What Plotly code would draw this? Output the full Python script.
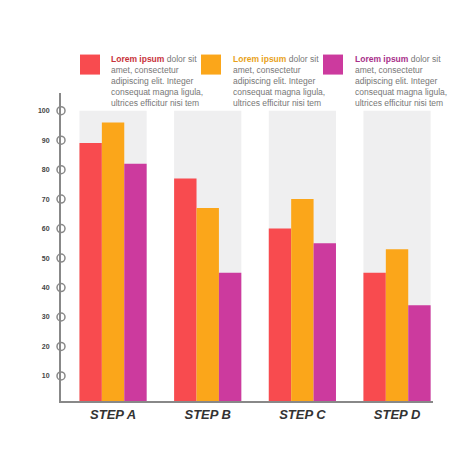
import plotly.graph_objects as go

categories = ["STEP A", "STEP B", "STEP C", "STEP D"]
red_vals = [89, 77, 60, 45]
orange_vals = [96, 67, 70, 53]
magenta_vals = [82, 45, 55, 34]
bg_vals = [100, 100, 100, 100]
tick_vals = [10, 20, 30, 40, 50, 60, 70, 80, 90, 100]
colors = ["#F84B4F", "#FBA61A", "#CC3A9E"]
title_colors = ["#C8323A", "#E8A21A", "#A8308A"]

xpos = list(range(len(categories)))
XR = [-0.55, 3.38]
GW = 0.71
BW = GW / 3

fig = go.Figure()
fig.add_trace(go.Bar(x=xpos, y=bg_vals, width=GW, offset=-GW / 2,
                     marker=dict(color="#EFEFF0", line=dict(width=0)), hoverinfo="skip"))
for k, (vals, c) in enumerate(zip([red_vals, orange_vals, magenta_vals], colors)):
    fig.add_trace(go.Bar(x=xpos, y=vals, width=BW, offset=-GW / 2 + k * BW,
                         marker=dict(color=c, line=dict(width=0))))
fig.add_trace(go.Scatter(x=[XR[0]] * len(tick_vals), y=tick_vals, mode="markers",
                         cliponaxis=False,
                         marker=dict(symbol="circle", size=8, color="white",
                                     line=dict(color="#888888", width=1.5))))

OFF = 7
W, H, L = 372, 307.6, 60
def px(x): return (x - L) / W
def py(y): return (400 - y) / H

shapes = []
annotations = []
for i, (sx, tx) in enumerate([(79, 108), (200, 230), (322, 352)]):
    shapes.append(dict(type="rect", xref="paper", yref="paper", x0=px(sx), x1=px(sx + 20),
                       y0=py(74), y1=py(54), fillcolor=colors[i], line=dict(width=0)))
    annotations.append(dict(xref="paper", yref="paper", x=px(tx), y=py(51), xanchor="left",
                            yanchor="top", align="left", showarrow=False,
                            font=dict(family="Liberation Sans, Arial", size=8.5, color="#777777"),
                            text=f"<b><span style='color:{title_colors[i]}'>Lorem ipsum</span></b> dolor sit<br>amet, consectetur<br>adipiscing elit. Integer<br>consequat magna ligula,<br>ultrices efficitur nisi tem"))

fig.update_layout(
    width=474, height=474, margin=dict(l=60 - OFF, r=42 + OFF, t=92 - OFF, b=74 + OFF),
    paper_bgcolor="white", plot_bgcolor="white", showlegend=False,
    barmode="overlay",
    shapes=shapes, annotations=annotations,
    xaxis=dict(range=XR, showgrid=False, zeroline=False, showline=True, linecolor="#888888",
               linewidth=2, ticks="", tickvals=xpos, ticktext=categories,
               tickfont=dict(family="Liberation Sans, Arial", size=13,
               color="#333333", weight="bold", style="italic")),
    yaxis=dict(range=[1.5, 106], showgrid=False, zeroline=False, showline=True,
               linecolor="#888888", linewidth=2, tickvals=tick_vals, ticks="",
               ticklabelstandoff=8,
               tickfont=dict(family="Liberation Sans, Arial", size=7, color="#444444", weight="bold")),
)
fig.write_html("out.html")
